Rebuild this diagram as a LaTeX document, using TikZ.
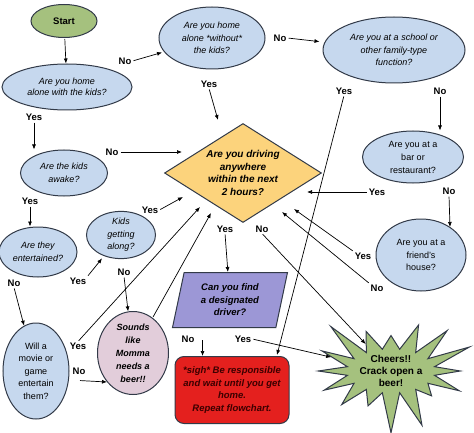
\documentclass[tikz,border=0pt]{standalone}
\usepackage{fontspec}
\setmainfont{Liberation Sans}
\usetikzlibrary{shapes.geometric,shapes.symbols,arrows.meta}
\definecolor{qblue}{RGB}{198,216,238}
\definecolor{edge}{RGB}{50,58,72}
\definecolor{sgreen}{RGB}{165,193,126}
\definecolor{dgold}{RGB}{252,211,124}
\definecolor{dpurple}{RGB}{156,151,214}
\definecolor{mpink}{RGB}{226,205,218}
\definecolor{bred}{RGB}{228,32,30}
\definecolor{rtext}{RGB}{60,0,0}
\tikzset{
  q/.style={ellipse,draw=edge,fill=qblue,line width=1pt,inner sep=0pt,align=center,
    font=\fontsize{9}{12.5}\selectfont\itshape},
  lab/.style={font=\fontsize{9.5}{11}\selectfont\bfseries,inner sep=1pt},
  arr/.style={-{Latex[length=5pt,width=4pt]},line width=0.7pt,shorten <=1pt},
}
\begin{document}
\begin{tikzpicture}[x=1pt,y=-1pt]
\useasboundingbox (0,0) rectangle (474,433);
% questions
\node[q,fill=sgreen,font=\fontsize{9.5}{12}\selectfont\bfseries,minimum width=66pt,minimum height=33pt] (start) at (64,21) {Start};
\node[q,minimum width=130pt,minimum height=46pt,font=\fontsize{9}{11}\selectfont\itshape] (homekids) at (67,87) {Are you home\\alone with the kids?};
\node[q,minimum width=106pt,minimum height=62pt] (without) at (212,38) {Are you home\\alone *without*\\the kids?};
\node[q,minimum width=142pt,minimum height=66pt] (school) at (394,50) {Are you at a school or\\other family-type\\function?};
\node[q,minimum width=87pt,minimum height=46pt] (awake) at (64,173) {Are the kids\\awake?};
\node[q,minimum width=78pt,minimum height=50pt] (entert) at (38,252) {Are they\\entertained?};
\node[q,minimum width=69pt,minimum height=44pt] (along) at (121,235) {Kids\\getting\\along?};
\node[q,minimum width=66pt,minimum height=96pt,font=\fontsize{9}{12.5}\selectfont] (movie) at (36,371) {Will a\\movie or\\game\\entertain\\them?};
\node[q,fill=mpink,minimum width=71pt,minimum height=83pt,font=\fontsize{9}{13}\selectfont\bfseries\itshape] (momma) at (133,353) {Sounds\\like\\Momma\\needs a\\beer!!};
\node[q,minimum width=101pt,minimum height=52pt,font=\fontsize{9}{13}\selectfont] (bar) at (413,157) {Are you at a\\bar or\\restaurant?};
\node[q,minimum width=90pt,minimum height=72pt,font=\fontsize{9}{12.5}\selectfont] (friend) at (421,255) {Are you at a\\friend's\\house?};
% decisions and ends
\node[diamond,draw=edge,fill=dgold,line width=1pt,aspect=1.6,inner sep=0pt,minimum width=157pt,minimum height=99pt,align=center,font=\fontsize{10}{12.5}\selectfont\bfseries\itshape] (drive) at (243,173) {Are you driving\\anywhere\\within the next\\2 hours?};
\node[trapezium,trapezium left angle=70,trapezium right angle=110,trapezium stretches body,draw=edge,fill=dpurple,line width=1pt,inner sep=0pt,minimum width=115pt,minimum height=55pt,align=center,font=\fontsize{9.5}{12.5}\selectfont\bfseries\itshape] (para) at (230,300) {Can you find\\a designated\\driver?};
\node[rectangle,rounded corners=9pt,draw=edge,fill=bred,line width=1pt,text=rtext,minimum width=114pt,minimum height=67pt,align=center,font=\fontsize{9.5}{12.7}\selectfont\bfseries\itshape] (sigh) at (232,390) {*sigh* Be responsible\\and wait until you get\\home.\\Repeat flowchart.};
\node[starburst,starburst points=16,starburst point height=42pt,random starburst=3,draw=edge,fill=sgreen,line width=1pt,inner sep=0pt,minimum width=150pt,minimum height=108pt,align=center,font=\fontsize{10}{12}\selectfont\bfseries] (cheers) at (391,371) {Cheers!!\\Crack open a\\beer!};
% labels
\node[lab] (noA) at (125,61) {No};
\node[lab] (noB) at (280,38) {No};
\node[lab] (yesA) at (209,84) {Yes};
\node[lab] (yesB) at (344,91) {Yes};
\node[lab] (noC) at (440,91) {No};
\node[lab] (yesC) at (34,117) {Yes};
\node[lab] (noD) at (112,152) {No};
\node[lab] (yesD) at (30,201) {Yes};
\node[lab] (yesE) at (150,210) {Yes};
\node[lab] (noE) at (124,272) {No};
\node[lab] (noF) at (14,283) {No};
\node[lab] (yesF) at (78,281) {Yes};
\node[lab] (yesG) at (78,346) {Yes};
\node[lab] (noG) at (79,371) {No};
\node[lab] (noH) at (449,191) {No};
\node[lab] (yesH) at (377,192) {Yes};
\node[lab] (yesI) at (363,256) {Yes};
\node[lab] (noI) at (377,288) {No};
\node[lab] (noJ) at (262,229) {No};
\node[lab] (yesJ) at (225,229) {Yes};
\node[lab] (noK) at (188,339) {No};
\node[lab] (yesK) at (243,339) {Yes};
% arrow ends
\coordinate (dA) at (218,120);
\coordinate (dB) at (182,152);
\coordinate (dC) at (183,197);
\coordinate (dD) at (200,207);
\coordinate (dE) at (211,213);
\coordinate (dF) at (307,192);
\coordinate (dG) at (294,209);
\coordinate (dH) at (282,212);
\coordinate (rA) at (277,355);
\coordinate (fA) at (450,227);
\coordinate (mA) at (107,382);
% arrows
\draw[arr] (start) -- (homekids);
\draw[arr,shorten >=2pt] (noA.east) -- (without);
\draw[arr,shorten >=5pt] (noB.east) -- (school);
\draw[arr] (yesA.south) -- (dA);
\draw[arr] (yesB.south) -- (rA);
\draw[arr] (noC.south) -- (noC |- bar.north);
\draw[arr] (yesC.south) -- (yesC |- awake.north);
\draw[arr] (noD.east) -- (dB);
\draw[arr] (yesD.south) -- (yesD |- entert.north);
\draw[arr] (yesE.east) -- (dC);
\draw[arr] (noE.south) -- (momma);
\draw[arr] (noF.south) -- (movie);
\draw[arr,shorten >=3pt] (yesF.north east) -- (along);
\draw[arr] (yesG.north) -- (dD);
\draw[arr] (noG.south) ++(0,5) -- (mA);
\draw[arr] (momma) -- (dE);
\draw[arr] (noH.south) -- (fA);
\draw[arr] (yesH.west) -- (dF);
\draw[arr] (yesI.north west) -- (dG);
\draw[arr] (noI.north west) -- (dH);
\draw[arr] (noJ.south) -- (cheers);
\draw[arr] (yesJ.south) -- (para);
\draw[arr] ([xshift=7pt]noK.east) -- ([xshift=7pt]noK.east |- sigh.north);
\draw[arr] (yesK.east) -- (cheers);
\end{tikzpicture}
\end{document}
